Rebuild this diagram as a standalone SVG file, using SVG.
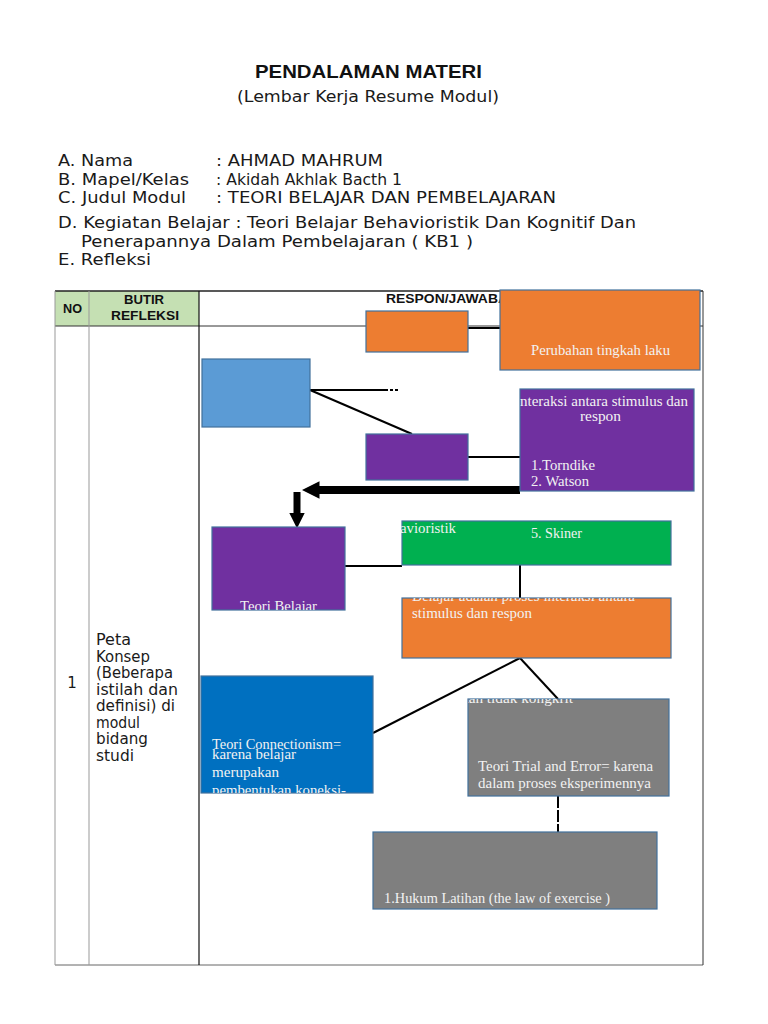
<svg xmlns="http://www.w3.org/2000/svg" width="768" height="1024" viewBox="0 0 768 1024">
<style>
.t{font-family:"DejaVu Sans","Noto Sans",sans-serif;font-size:15.5px;fill:#1a1a1a}
.r{font-family:"DejaVu Sans","Noto Sans",sans-serif;font-size:15px;fill:#1a1a1a}
.h{font-family:"Liberation Sans",Arial,sans-serif;font-weight:bold;fill:#111}
.s{font-family:"Liberation Serif","DejaVu Serif",serif;font-size:14px;fill:#f2f2f2}
.box{stroke:#41719c;stroke-width:1.2}
.ln{stroke:#000;stroke-width:2;fill:none}
</style>
<defs>
<clipPath id="cOr2"><rect x="402" y="598" width="269" height="60"/></clipPath>
<clipPath id="cGr1"><rect x="468" y="699" width="201" height="97"/></clipPath>
<clipPath id="cBl2"><rect x="201" y="676" width="172" height="117"/></clipPath>
<clipPath id="cPu2"><rect x="212" y="527" width="133" height="83"/></clipPath>
<clipPath id="cGn"><rect x="380" y="521" width="291" height="44"/></clipPath>
<clipPath id="cPu1"><rect x="520" y="389" width="174" height="102"/></clipPath>
<marker id="ah" viewBox="0 0 10 10" refX="2" refY="5" markerWidth="2.2" markerHeight="2.2" orient="auto"><path d="M0,0 L10,5 L0,10 z" fill="#000"/></marker>
</defs>
<rect width="768" height="1024" fill="#fff"/>

<g id="header">
<text class="h" x="255" y="78" font-size="17.5" textLength="227" lengthAdjust="spacingAndGlyphs">PENDALAMAN MATERI</text>
<text class="t" x="237" y="102" textLength="262" lengthAdjust="spacingAndGlyphs">(Lembar Kerja Resume Modul)</text>
<text class="t" x="58" y="166" textLength="75" lengthAdjust="spacingAndGlyphs">A. Nama</text>
<text class="t" x="216" y="166" textLength="167" lengthAdjust="spacingAndGlyphs">: AHMAD MAHRUM</text>
<text class="t" x="58" y="185" textLength="131" lengthAdjust="spacingAndGlyphs">B. Mapel/Kelas</text>
<text class="t" x="216" y="185" textLength="186" lengthAdjust="spacingAndGlyphs">: Akidah Akhlak Bacth 1</text>
<text class="t" x="58" y="203" textLength="128" lengthAdjust="spacingAndGlyphs">C. Judul Modul</text>
<text class="t" x="216" y="203" textLength="340" lengthAdjust="spacingAndGlyphs">: TEORI BELAJAR DAN PEMBELAJARAN</text>
<text class="t" x="58" y="228" textLength="578" lengthAdjust="spacingAndGlyphs">D. Kegiatan  Belajar : Teori  Belajar  Behavioristik  Dan  Kognitif  Dan</text>
<text class="t" x="81" y="247" textLength="392" lengthAdjust="spacingAndGlyphs">Penerapannya Dalam Pembelajaran ( KB1 )</text>
<text class="t" x="58" y="265" textLength="93" lengthAdjust="spacingAndGlyphs">E. Refleksi</text>
</g>

<g id="table">
<rect x="55" y="291" width="34" height="35" fill="#c5e0b3"/>
<rect x="89" y="291" width="110" height="35" fill="#c5e0b3"/>
<line x1="55" y1="291" x2="703" y2="291" stroke="#222" stroke-width="1.3"/>
<line x1="55" y1="326" x2="703" y2="326" stroke="#333" stroke-width="1"/>
<line x1="55" y1="965" x2="703" y2="965" stroke="#666" stroke-width="1"/>
<line x1="55" y1="291" x2="55" y2="965" stroke="#999" stroke-width="1"/>
<line x1="89" y1="291" x2="89" y2="965" stroke="#999" stroke-width="1"/>
<line x1="199" y1="291" x2="199" y2="965" stroke="#111" stroke-width="1.2"/>
<line x1="703" y1="291" x2="703" y2="965" stroke="#333" stroke-width="1"/>
<text class="h" x="63" y="313" font-size="13" textLength="19" lengthAdjust="spacingAndGlyphs">NO</text>
<text class="h" x="124" y="304" font-size="13" textLength="40" lengthAdjust="spacingAndGlyphs">BUTIR</text>
<text class="h" x="111" y="320" font-size="13" textLength="68" lengthAdjust="spacingAndGlyphs">REFLEKSI</text>
<text class="h" x="386" y="303" font-size="13" textLength="132" lengthAdjust="spacingAndGlyphs">RESPON/JAWABAN</text>
<text class="r" x="72" y="688" text-anchor="middle">1</text>
<text class="r" x="96" y="645" textLength="35" lengthAdjust="spacingAndGlyphs">Peta</text>
<text class="r" x="96" y="661.5" textLength="54" lengthAdjust="spacingAndGlyphs">Konsep</text>
<text class="r" x="96" y="678" textLength="77" lengthAdjust="spacingAndGlyphs">(Beberapa</text>
<text class="r" x="96" y="694.5" textLength="82" lengthAdjust="spacingAndGlyphs">istilah dan</text>
<text class="r" x="96" y="711" textLength="79" lengthAdjust="spacingAndGlyphs">definisi) di</text>
<text class="r" x="96" y="727.5" textLength="44" lengthAdjust="spacingAndGlyphs">modul</text>
<text class="r" x="96" y="744" textLength="52" lengthAdjust="spacingAndGlyphs">bidang</text>
<text class="r" x="96" y="760.5" textLength="38" lengthAdjust="spacingAndGlyphs">studi</text>
</g>

<g id="connectors">
<line class="ln" x1="468" y1="328" x2="500" y2="328" stroke-width="3"/>
<line class="ln" x1="310" y1="390" x2="385" y2="390"/>
<line class="ln" x1="385" y1="390" x2="400" y2="390" stroke-dasharray="3,2"/>
<line class="ln" x1="310" y1="390" x2="412" y2="434"/>
<line class="ln" x1="468" y1="457" x2="520" y2="457"/>
<line x1="520" y1="490" x2="316" y2="490" stroke="#000" stroke-width="8" marker-end="url(#ah)"/>
<line x1="297" y1="492" x2="297" y2="516" stroke="#000" stroke-width="7" marker-end="url(#ah)"/>
<line class="ln" x1="345" y1="566" x2="402" y2="566"/>
<line class="ln" x1="520" y1="565" x2="520" y2="598"/>
<line class="ln" x1="520" y1="658" x2="373" y2="733" stroke-width="2.5"/>
<line class="ln" x1="520" y1="658" x2="558" y2="699" stroke-width="2.5"/>
<line class="ln" x1="558" y1="796" x2="558" y2="832" stroke-dasharray="12,2"/>
</g>

<g id="n-orange-small"><rect class="box" x="366" y="311" width="102" height="41" fill="#ed7d31"/></g>
<g id="n-perubahan"><rect class="box" x="500" y="290" width="200" height="80" fill="#ed7d31"/>
<text class="s" x="531" y="355" textLength="139" lengthAdjust="spacingAndGlyphs">Perubahan tingkah laku</text></g>
<g id="n-blue-top"><rect class="box" x="202" y="359" width="108" height="68" fill="#5b9bd5"/></g>
<g id="n-purple-small"><rect class="box" x="366" y="434" width="102" height="46" fill="#7030a0"/></g>
<g id="n-interaksi"><rect class="box" x="520" y="389" width="174" height="102" fill="#7030a0"/>
<g clip-path="url(#cPu1)"><text class="s" x="515" y="406" textLength="173" lengthAdjust="spacingAndGlyphs">Interaksi antara stimulus dan</text></g>
<text class="s" x="580" y="421" textLength="41" lengthAdjust="spacingAndGlyphs">respon</text>
<text class="s" x="531" y="470" textLength="64" lengthAdjust="spacingAndGlyphs">1.Torndike</text>
<text class="s" x="531" y="486" textLength="58" lengthAdjust="spacingAndGlyphs">2. Watson</text></g>
<g id="n-teori-belajar"><rect class="box" x="212" y="527" width="133" height="83" fill="#7030a0"/>
<g clip-path="url(#cPu2)"><text class="s" x="240" y="611" textLength="77" lengthAdjust="spacingAndGlyphs">Teori Belajar</text></g></g>
<g id="n-skiner"><rect class="box" x="402" y="521" width="269" height="44" fill="#00b050"/>
<g clip-path="url(#cGn)"><text class="s" x="400" y="533" textLength="56" lengthAdjust="spacingAndGlyphs">avioristik</text></g>
<text class="s" x="531" y="538" textLength="51" lengthAdjust="spacingAndGlyphs">5. Skiner</text></g>
<g id="n-belajar"><rect class="box" x="402" y="598" width="269" height="60" fill="#ed7d31"/>
<g clip-path="url(#cOr2)"><text class="s" x="412" y="601" textLength="223" lengthAdjust="spacingAndGlyphs">Belajar adalah proses interaksi antara</text></g>
<text class="s" x="412" y="618" textLength="120" lengthAdjust="spacingAndGlyphs">stimulus dan respon</text></g>
<g id="n-connectionism"><rect class="box" x="201" y="676" width="172" height="117" fill="#0070c0"/>
<g clip-path="url(#cBl2)"><text class="s" x="212" y="749" textLength="129" lengthAdjust="spacingAndGlyphs">Teori Connectionism=</text>
<text class="s" x="212" y="759" textLength="84" lengthAdjust="spacingAndGlyphs">karena belajar</text>
<text class="s" x="212" y="777" textLength="67" lengthAdjust="spacingAndGlyphs">merupakan</text>
<text class="s" x="212" y="795" textLength="134" lengthAdjust="spacingAndGlyphs">pembentukan koneksi-</text></g></g>
<g id="n-trial"><rect class="box" x="468" y="699" width="201" height="97" fill="#7f7f7f"/>
<g clip-path="url(#cGr1)"><text class="s" x="461" y="703" textLength="112" lengthAdjust="spacingAndGlyphs">dan tidak kongkrit</text></g>
<text class="s" x="478" y="771" textLength="175" lengthAdjust="spacingAndGlyphs">Teori Trial and Error= karena</text>
<text class="s" x="478" y="788" textLength="173" lengthAdjust="spacingAndGlyphs">dalam proses eksperimennya</text></g>
<g id="n-hukum"><rect class="box" x="373" y="832" width="284" height="77" fill="#7f7f7f"/>
<text class="s" x="384" y="903" textLength="226" lengthAdjust="spacingAndGlyphs">1.Hukum Latihan (the law of exercise )</text></g>
</svg>
